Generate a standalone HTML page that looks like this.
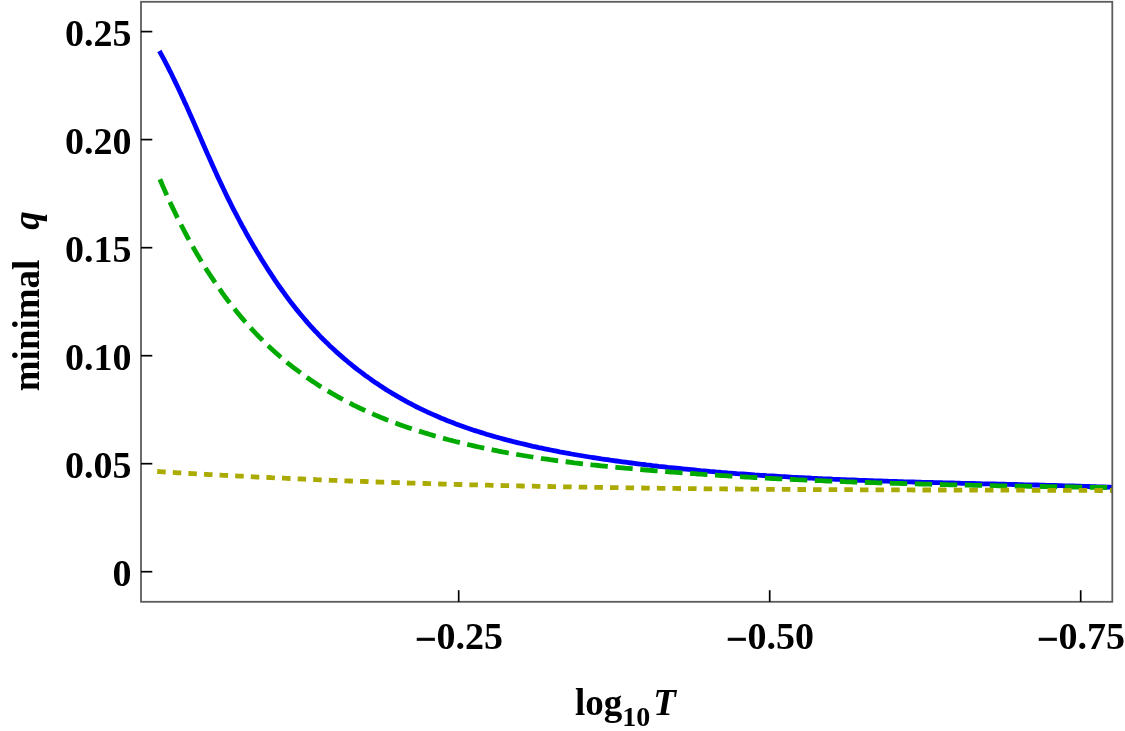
<!DOCTYPE html>
<html><head><meta charset="utf-8"><title>minimal q vs log10 T</title>
<style>
html,body{margin:0;padding:0;background:#fff;}
svg{display:block;}
text{font-family:"Liberation Serif","Times New Roman",serif;font-weight:bold;fill:#000;}
</style></head><body>
<svg width="1125" height="731" viewBox="0 0 1125 731">
<rect x="0" y="0" width="1125" height="731" fill="#fff"/>
<defs><clipPath id="c"><rect x="141.0" y="1.8" width="971.3" height="600.0"/></clipPath></defs>
<g clip-path="url(#c)" fill="none" stroke-width="4.8" stroke-linejoin="round">
<path d="M159.4,51.0 L160.8,53.6 L162.3,56.3 L163.7,58.9 L165.1,61.6 L166.5,64.3 L167.9,66.9 L169.2,69.6 L170.6,72.3 L171.9,75.0 L173.2,77.7 L174.5,80.4 L175.8,83.1 L177.1,85.8 L178.4,88.5 L179.7,91.2 L181.0,94.0 L182.2,96.7 L183.5,99.4 L184.7,102.2 L186.0,104.9 L187.2,107.6 L188.4,110.4 L189.6,113.1 L190.9,115.9 L192.1,118.6 L193.3,121.4 L194.5,124.1 L195.7,126.9 L196.9,129.7 L198.1,132.4 L199.3,135.2 L200.5,137.9 L201.7,140.7 L202.9,143.5 L204.1,146.2 L205.3,149.0 L206.5,151.7 L207.7,154.5 L209.0,157.3 L210.2,160.0 L211.4,162.8 L212.6,165.5 L213.9,168.3 L215.1,171.0 L216.4,173.8 L217.6,176.5 L218.9,179.3 L220.2,182.0 L221.5,184.8 L222.8,187.5 L224.1,190.2 L225.4,193.0 L226.7,195.7 L228.0,198.4 L229.4,201.1 L230.7,203.8 L232.1,206.6 L233.5,209.3 L234.9,212.0 L236.3,214.7 L237.7,217.3 L239.1,220.0 L240.5,222.7 L241.9,225.4 L243.4,228.0 L244.9,230.7 L246.3,233.3 L247.8,236.0 L249.3,238.6 L250.8,241.2 L252.3,243.9 L253.8,246.5 L255.4,249.1 L256.9,251.7 L258.5,254.3 L260.0,256.8 L261.6,259.4 L263.2,262.0 L264.8,264.5 L266.4,267.1 L268.0,269.6 L269.7,272.1 L271.3,274.6 L273.0,277.1 L274.6,279.6 L276.3,282.1 L278.0,284.6 L279.7,287.0 L281.5,289.5 L283.2,291.9 L285.0,294.3 L286.7,296.7 L288.5,299.1 L290.3,301.5 L292.2,303.9 L294.0,306.2 L295.8,308.6 L297.7,310.9 L299.6,313.2 L301.5,315.5 L303.4,317.8 L305.4,320.1 L307.3,322.4 L309.3,324.6 L311.3,326.8 L313.4,329.1 L315.4,331.3 L317.5,333.4 L319.5,335.6 L321.6,337.8 L323.8,339.9 L325.9,342.0 L328.1,344.1 L330.2,346.2 L332.5,348.3 L334.7,350.3 L336.9,352.4 L339.2,354.4 L341.5,356.4 L343.8,358.4 L346.1,360.3 L348.4,362.3 L350.8,364.2 L353.1,366.1 L355.5,368.0 L357.9,369.9 L360.3,371.7 L362.8,373.5 L365.2,375.4 L367.7,377.1 L370.2,378.9 L372.7,380.7 L375.2,382.4 L377.7,384.1 L380.2,385.8 L382.8,387.4 L385.3,389.1 L387.9,390.7 L390.5,392.3 L393.1,393.9 L395.7,395.4 L398.3,396.9 L400.9,398.4 L403.6,399.9 L406.2,401.4 L408.9,402.8 L411.5,404.2 L414.2,405.6 L416.9,407.0 L419.6,408.3 L422.3,409.6 L425.0,410.9 L427.7,412.2 L430.4,413.4 L433.2,414.6 L435.9,415.8 L438.7,417.0 L441.4,418.2 L444.2,419.3 L446.9,420.5 L449.7,421.6 L452.5,422.6 L455.3,423.7 L458.1,424.7 L460.9,425.8 L463.7,426.8 L466.5,427.8 L469.4,428.7 L472.2,429.7 L475.0,430.6 L477.9,431.5 L480.7,432.4 L483.6,433.3 L486.4,434.2 L489.3,435.0 L492.2,435.9 L495.1,436.7 L497.9,437.5 L500.8,438.3 L503.7,439.1 L506.6,439.9 L509.5,440.6 L512.4,441.4 L515.4,442.1 L518.3,442.8 L521.2,443.5 L524.1,444.2 L527.1,444.9 L530.0,445.6 L532.9,446.3 L535.9,446.9 L538.8,447.6 L541.8,448.2 L544.7,448.8 L547.7,449.4 L550.6,450.0 L553.6,450.6 L556.6,451.2 L559.6,451.8 L562.5,452.3 L565.5,452.9 L568.5,453.4 L571.5,454.0 L574.4,454.5 L577.4,455.0 L580.4,455.5 L583.4,456.0 L586.4,456.5 L589.4,457.0 L592.4,457.5 L595.4,457.9 L598.4,458.4 L601.4,458.9 L604.4,459.3 L607.4,459.7 L610.4,460.2 L613.4,460.6 L616.4,461.0 L619.4,461.4 L622.4,461.8 L625.5,462.2 L628.5,462.6 L631.5,463.0 L634.5,463.4 L637.5,463.8 L640.5,464.2 L643.5,464.5 L646.5,464.9 L649.5,465.2 L652.5,465.6 L655.6,465.9 L658.6,466.3 L661.6,466.6 L664.6,466.9 L667.6,467.3 L670.6,467.6 L673.6,467.9 L676.6,468.2 L679.6,468.5 L682.6,468.8 L685.6,469.1 L688.6,469.4 L691.6,469.7 L694.6,470.0 L697.7,470.3 L700.7,470.6 L703.7,470.8 L706.7,471.1 L709.7,471.4 L712.7,471.6 L715.7,471.9 L718.7,472.1 L721.7,472.4 L724.7,472.6 L727.7,472.9 L730.7,473.1 L733.7,473.3 L736.7,473.6 L739.7,473.8 L742.7,474.0 L745.7,474.2 L748.7,474.4 L751.7,474.6 L754.7,474.9 L757.7,475.1 L760.7,475.3 L763.7,475.5 L766.7,475.7 L769.7,475.8 L772.7,476.0 L775.7,476.2 L778.7,476.4 L781.7,476.6 L784.7,476.7 L787.7,476.9 L790.7,477.1 L793.7,477.3 L796.7,477.4 L799.7,477.6 L802.7,477.7 L805.7,477.9 L808.7,478.0 L811.7,478.2 L814.7,478.3 L817.7,478.5 L820.7,478.6 L823.7,478.8 L826.7,478.9 L829.7,479.0 L832.7,479.2 L835.7,479.3 L838.7,479.4 L841.7,479.6 L844.7,479.7 L847.7,479.8 L850.7,479.9 L853.7,480.0 L856.7,480.1 L859.7,480.3 L862.8,480.4 L865.8,480.5 L868.8,480.6 L871.8,480.7 L874.8,480.8 L877.8,480.9 L880.8,481.0 L883.8,481.1 L886.8,481.2 L889.8,481.3 L892.8,481.4 L895.8,481.5 L898.8,481.6 L901.8,481.7 L904.8,481.8 L907.8,481.8 L910.8,481.9 L913.8,482.0 L916.8,482.1 L919.8,482.2 L922.8,482.3 L925.8,482.3 L928.8,482.4 L931.9,482.5 L934.9,482.6 L937.9,482.7 L940.9,482.7 L943.9,482.8 L946.9,482.9 L949.9,483.0 L952.9,483.0 L955.9,483.1 L958.9,483.2 L961.9,483.3 L965.0,483.3 L968.0,483.4 L971.0,483.5 L974.0,483.5 L977.0,483.6 L980.0,483.7 L983.0,483.8 L986.0,483.8 L989.1,483.9 L992.1,484.0 L995.1,484.0 L998.1,484.1 L1001.1,484.2 L1004.1,484.2 L1007.2,484.3 L1010.2,484.4 L1013.2,484.5 L1016.2,484.5 L1019.2,484.6 L1022.3,484.7 L1025.3,484.8 L1028.3,484.8 L1031.3,484.9 L1034.3,485.0 L1037.4,485.0 L1040.4,485.1 L1043.4,485.2 L1046.4,485.3 L1049.5,485.4 L1052.5,485.4 L1055.5,485.5 L1058.5,485.6 L1061.6,485.7 L1064.6,485.8 L1067.6,485.8 L1070.6,485.9 L1073.7,486.0 L1076.7,486.1 L1079.7,486.2 L1082.8,486.3 L1085.8,486.4 L1088.8,486.5 L1091.9,486.6 L1094.9,486.7 L1097.9,486.8 L1101.0,486.9 L1104.0,487.0 L1107.0,487.1 L1110.1,487.2 L1113.1,487.3" stroke="#0000ff"/>
<path d="M159.9,179.2 L161.1,182.0 L162.2,184.7 L163.4,187.4 L164.6,190.1 L165.8,192.9 L167.0,195.6 L168.2,198.3 L169.5,201.0 L170.7,203.7 L172.0,206.4 L173.3,209.1 L174.6,211.8 L175.9,214.6 L177.2,217.3 L178.6,220.0 L179.9,222.6 L181.3,225.3 L182.7,228.0 L184.1,230.7 L185.5,233.4 L186.9,236.0 L188.3,238.7 L189.8,241.4 L191.3,244.0 L192.8,246.6 L194.3,249.3 L195.8,251.9 L197.3,254.5 L198.9,257.1 L200.4,259.7 L202.0,262.3 L203.6,264.9 L205.2,267.5 L206.8,270.1 L208.5,272.6 L210.1,275.2 L211.8,277.7 L213.5,280.2 L215.2,282.7 L216.9,285.2 L218.6,287.7 L220.4,290.2 L222.1,292.7 L223.9,295.1 L225.7,297.6 L227.5,300.0 L229.4,302.4 L231.2,304.8 L233.1,307.2 L235.0,309.5 L236.9,311.9 L238.8,314.2 L240.7,316.6 L242.7,318.9 L244.7,321.2 L246.6,323.4 L248.7,325.7 L250.7,327.9 L252.7,330.1 L254.8,332.3 L256.8,334.5 L258.9,336.7 L261.1,338.8 L263.2,341.0 L265.3,343.1 L267.5,345.2 L269.7,347.2 L271.9,349.3 L274.1,351.3 L276.3,353.3 L278.6,355.3 L280.9,357.3 L283.2,359.2 L285.5,361.1 L287.8,363.1 L290.1,364.9 L292.5,366.8 L294.9,368.6 L297.3,370.4 L299.7,372.2 L302.1,374.0 L304.6,375.8 L307.0,377.5 L309.5,379.2 L312.0,380.9 L314.5,382.6 L317.0,384.2 L319.5,385.9 L322.1,387.5 L324.6,389.0 L327.2,390.6 L329.8,392.1 L332.4,393.7 L335.0,395.2 L337.6,396.6 L340.2,398.1 L342.9,399.5 L345.5,400.9 L348.2,402.3 L350.9,403.7 L353.5,405.1 L356.2,406.4 L359.0,407.7 L361.7,409.0 L364.4,410.2 L367.1,411.5 L369.9,412.7 L372.6,413.9 L375.4,415.1 L378.2,416.3 L381.0,417.4 L383.7,418.5 L386.5,419.7 L389.3,420.7 L392.2,421.8 L395.0,422.9 L397.8,423.9 L400.6,424.9 L403.5,425.9 L406.3,426.9 L409.2,427.9 L412.0,428.9 L414.9,429.8 L417.7,430.7 L420.6,431.6 L423.5,432.5 L426.4,433.4 L429.3,434.3 L432.1,435.1 L435.0,436.0 L437.9,436.8 L440.8,437.6 L443.7,438.4 L446.6,439.2 L449.5,440.0 L452.4,440.7 L455.4,441.5 L458.3,442.2 L461.2,442.9 L464.1,443.6 L467.1,444.3 L470.0,445.0 L472.9,445.7 L475.9,446.4 L478.8,447.0 L481.7,447.7 L484.7,448.3 L487.6,448.9 L490.6,449.5 L493.5,450.1 L496.5,450.7 L499.5,451.3 L502.4,451.9 L505.4,452.4 L508.3,453.0 L511.3,453.5 L514.3,454.0 L517.3,454.5 L520.2,455.0 L523.2,455.5 L526.2,456.0 L529.2,456.5 L532.2,457.0 L535.1,457.5 L538.1,457.9 L541.1,458.4 L544.1,458.8 L547.1,459.2 L550.1,459.7 L553.1,460.1 L556.1,460.5 L559.1,460.9 L562.1,461.3 L565.1,461.7 L568.1,462.0 L571.1,462.4 L574.1,462.8 L577.1,463.1 L580.1,463.5 L583.1,463.8 L586.1,464.2 L589.1,464.5 L592.1,464.9 L595.1,465.2 L598.1,465.5 L601.1,465.8 L604.2,466.1 L607.2,466.4 L610.2,466.7 L613.2,467.0 L616.2,467.3 L619.2,467.6 L622.2,467.9 L625.2,468.2 L628.3,468.4 L631.3,468.7 L634.3,469.0 L637.3,469.2 L640.3,469.5 L643.3,469.8 L646.3,470.0 L649.4,470.3 L652.4,470.5 L655.4,470.8 L658.4,471.0 L661.4,471.3 L664.4,471.5 L667.4,471.7 L670.4,472.0 L673.4,472.2 L676.4,472.4 L679.5,472.6 L682.5,472.9 L685.5,473.1 L688.5,473.3 L691.5,473.5 L694.5,473.7 L697.5,474.0 L700.5,474.2 L703.5,474.4 L706.5,474.6 L709.5,474.8 L712.5,475.0 L715.5,475.2 L718.6,475.4 L721.6,475.6 L724.6,475.7 L727.6,475.9 L730.6,476.1 L733.6,476.3 L736.6,476.5 L739.6,476.7 L742.6,476.8 L745.6,477.0 L748.6,477.2 L751.6,477.3 L754.6,477.5 L757.6,477.7 L760.6,477.8 L763.6,478.0 L766.6,478.2 L769.6,478.3 L772.6,478.5 L775.6,478.6 L778.6,478.8 L781.6,478.9 L784.7,479.1 L787.7,479.2 L790.7,479.4 L793.7,479.5 L796.7,479.7 L799.7,479.8 L802.7,479.9 L805.7,480.1 L808.7,480.2 L811.7,480.3 L814.7,480.5 L817.7,480.6 L820.7,480.7 L823.7,480.8 L826.7,481.0 L829.7,481.1 L832.7,481.2 L835.7,481.3 L838.7,481.4 L841.7,481.5 L844.7,481.7 L847.7,481.8 L850.7,481.9 L853.7,482.0 L856.7,482.1 L859.7,482.2 L862.7,482.3 L865.7,482.4 L868.7,482.5 L871.8,482.6 L874.8,482.7 L877.8,482.8 L880.8,482.9 L883.8,483.0 L886.8,483.1 L889.8,483.2 L892.8,483.3 L895.8,483.3 L898.8,483.4 L901.8,483.5 L904.8,483.6 L907.8,483.7 L910.8,483.8 L913.8,483.9 L916.8,483.9 L919.8,484.0 L922.9,484.1 L925.9,484.2 L928.9,484.2 L931.9,484.3 L934.9,484.4 L937.9,484.5 L940.9,484.5 L943.9,484.6 L946.9,484.7 L949.9,484.8 L952.9,484.8 L956.0,484.9 L959.0,485.0 L962.0,485.0 L965.0,485.1 L968.0,485.2 L971.0,485.2 L974.0,485.3 L977.0,485.3 L980.1,485.4 L983.1,485.5 L986.1,485.5 L989.1,485.6 L992.1,485.6 L995.1,485.7 L998.1,485.8 L1001.2,485.8 L1004.2,485.9 L1007.2,485.9 L1010.2,486.0 L1013.2,486.0 L1016.2,486.1 L1019.3,486.1 L1022.3,486.2 L1025.3,486.2 L1028.3,486.3 L1031.3,486.3 L1034.4,486.4 L1037.4,486.4 L1040.4,486.5 L1043.4,486.5 L1046.5,486.6 L1049.5,486.6 L1052.5,486.7 L1055.5,486.7 L1058.5,486.8 L1061.6,486.8 L1064.6,486.9 L1067.6,486.9 L1070.7,487.0 L1073.7,487.0 L1076.7,487.1 L1079.7,487.1 L1082.8,487.2 L1085.8,487.2 L1088.8,487.3 L1091.9,487.3 L1094.9,487.4 L1097.9,487.4 L1101.0,487.4 L1104.0,487.5 L1107.0,487.5 L1110.1,487.6 L1113.1,487.6" stroke="#00aa00" stroke-dasharray="17.4 7.6"/>
<path d="M157.2,471.5 L160.2,471.7 L163.2,471.9 L166.2,472.0 L169.2,472.2 L172.2,472.4 L175.3,472.6 L178.3,472.8 L181.3,472.9 L184.3,473.1 L187.3,473.3 L190.3,473.5 L193.3,473.6 L196.3,473.8 L199.3,474.0 L202.4,474.1 L205.4,474.3 L208.4,474.5 L211.4,474.6 L214.4,474.8 L217.4,475.0 L220.4,475.1 L223.4,475.3 L226.5,475.4 L229.5,475.6 L232.5,475.8 L235.5,475.9 L238.5,476.1 L241.5,476.2 L244.5,476.4 L247.5,476.5 L250.6,476.7 L253.6,476.8 L256.6,477.0 L259.6,477.1 L262.6,477.3 L265.6,477.4 L268.6,477.5 L271.6,477.7 L274.7,477.8 L277.7,478.0 L280.7,478.1 L283.7,478.2 L286.7,478.4 L289.7,478.5 L292.7,478.6 L295.7,478.8 L298.8,478.9 L301.8,479.0 L304.8,479.2 L307.8,479.3 L310.8,479.4 L313.8,479.5 L316.8,479.7 L319.9,479.8 L322.9,479.9 L325.9,480.0 L328.9,480.2 L331.9,480.3 L334.9,480.4 L337.9,480.5 L340.9,480.6 L344.0,480.8 L347.0,480.9 L350.0,481.0 L353.0,481.1 L356.0,481.2 L359.0,481.3 L362.0,481.4 L365.1,481.5 L368.1,481.6 L371.1,481.8 L374.1,481.9 L377.1,482.0 L380.1,482.1 L383.1,482.2 L386.2,482.3 L389.2,482.4 L392.2,482.5 L395.2,482.6 L398.2,482.7 L401.2,482.8 L404.2,482.9 L407.3,483.0 L410.3,483.1 L413.3,483.2 L416.3,483.2 L419.3,483.3 L422.3,483.4 L425.3,483.5 L428.4,483.6 L431.4,483.7 L434.4,483.8 L437.4,483.9 L440.4,484.0 L443.4,484.1 L446.4,484.1 L449.5,484.2 L452.5,484.3 L455.5,484.4 L458.5,484.5 L461.5,484.5 L464.5,484.6 L467.6,484.7 L470.6,484.8 L473.6,484.9 L476.6,484.9 L479.6,485.0 L482.6,485.1 L485.6,485.2 L488.7,485.2 L491.7,485.3 L494.7,485.4 L497.7,485.5 L500.7,485.5 L503.7,485.6 L506.8,485.7 L509.8,485.7 L512.8,485.8 L515.8,485.9 L518.8,485.9 L521.8,486.0 L524.8,486.1 L527.9,486.1 L530.9,486.2 L533.9,486.2 L536.9,486.3 L539.9,486.4 L542.9,486.4 L546.0,486.5 L549.0,486.5 L552.0,486.6 L555.0,486.7 L558.0,486.7 L561.0,486.8 L564.0,486.8 L567.1,486.9 L570.1,486.9 L573.1,487.0 L576.1,487.0 L579.1,487.1 L582.1,487.1 L585.2,487.2 L588.2,487.2 L591.2,487.3 L594.2,487.3 L597.2,487.4 L600.2,487.4 L603.3,487.5 L606.3,487.5 L609.3,487.6 L612.3,487.6 L615.3,487.7 L618.3,487.7 L621.4,487.8 L624.4,487.8 L627.4,487.8 L630.4,487.9 L633.4,487.9 L636.4,488.0 L639.4,488.0 L642.5,488.0 L645.5,488.1 L648.5,488.1 L651.5,488.2 L654.5,488.2 L657.5,488.2 L660.6,488.3 L663.6,488.3 L666.6,488.3 L669.6,488.4 L672.6,488.4 L675.6,488.4 L678.7,488.5 L681.7,488.5 L684.7,488.5 L687.7,488.6 L690.7,488.6 L693.7,488.6 L696.8,488.7 L699.8,488.7 L702.8,488.7 L705.8,488.8 L708.8,488.8 L711.8,488.8 L714.9,488.8 L717.9,488.9 L720.9,488.9 L723.9,488.9 L726.9,489.0 L729.9,489.0 L733.0,489.0 L736.0,489.0 L739.0,489.1 L742.0,489.1 L745.0,489.1 L748.0,489.1 L751.1,489.1 L754.1,489.2 L757.1,489.2 L760.1,489.2 L763.1,489.2 L766.1,489.3 L769.2,489.3 L772.2,489.3 L775.2,489.3 L778.2,489.3 L781.2,489.4 L784.2,489.4 L787.3,489.4 L790.3,489.4 L793.3,489.4 L796.3,489.5 L799.3,489.5 L802.3,489.5 L805.4,489.5 L808.4,489.5 L811.4,489.5 L814.4,489.6 L817.4,489.6 L820.4,489.6 L823.4,489.6 L826.5,489.6 L829.5,489.6 L832.5,489.6 L835.5,489.7 L838.5,489.7 L841.5,489.7 L844.6,489.7 L847.6,489.7 L850.6,489.7 L853.6,489.7 L856.6,489.8 L859.6,489.8 L862.7,489.8 L865.7,489.8 L868.7,489.8 L871.7,489.8 L874.7,489.8 L877.7,489.8 L880.8,489.8 L883.8,489.9 L886.8,489.9 L889.8,489.9 L892.8,489.9 L895.8,489.9 L898.9,489.9 L901.9,489.9 L904.9,489.9 L907.9,489.9 L910.9,489.9 L913.9,490.0 L917.0,490.0 L920.0,490.0 L923.0,490.0 L926.0,490.0 L929.0,490.0 L932.0,490.0 L935.1,490.0 L938.1,490.0 L941.1,490.0 L944.1,490.0 L947.1,490.1 L950.1,490.1 L953.2,490.1 L956.2,490.1 L959.2,490.1 L962.2,490.1 L965.2,490.1 L968.2,490.1 L971.3,490.1 L974.3,490.1 L977.3,490.1 L980.3,490.1 L983.3,490.1 L986.3,490.2 L989.3,490.2 L992.4,490.2 L995.4,490.2 L998.4,490.2 L1001.4,490.2 L1004.4,490.2 L1007.4,490.2 L1010.5,490.2 L1013.5,490.2 L1016.5,490.2 L1019.5,490.2 L1022.5,490.2 L1025.5,490.3 L1028.6,490.3 L1031.6,490.3 L1034.6,490.3 L1037.6,490.3 L1040.6,490.3 L1043.6,490.3 L1046.7,490.3 L1049.7,490.3 L1052.7,490.3 L1055.7,490.3 L1058.7,490.3 L1061.7,490.3 L1064.7,490.4 L1067.8,490.4 L1070.8,490.4 L1073.8,490.4 L1076.8,490.4 L1079.8,490.4 L1082.8,490.4 L1085.9,490.4 L1088.9,490.4 L1091.9,490.4 L1094.9,490.4 L1097.9,490.5 L1100.9,490.5 L1103.9,490.5 L1107.0,490.5 L1110.0,490.5 L1113.0,490.5" stroke="#aaaa00" stroke-dasharray="8.5 7.126"/>
</g>
<rect x="141.0" y="1.8" width="971.3" height="600.0" fill="none" stroke="#5c5c5c" stroke-width="1.8"/>
<g stroke="#000" stroke-width="1.7" fill="none">
<line x1="141.0" y1="31.6" x2="152.3" y2="31.6"/>
<line x1="141.0" y1="139.6" x2="152.3" y2="139.6"/>
<line x1="141.0" y1="247.7" x2="152.3" y2="247.7"/>
<line x1="141.0" y1="355.7" x2="152.3" y2="355.7"/>
<line x1="141.0" y1="463.7" x2="152.3" y2="463.7"/>
<line x1="141.0" y1="571.7" x2="152.3" y2="571.7"/>
<line x1="458.7" y1="601.8" x2="458.7" y2="590.1999999999999"/>
<line x1="769.7" y1="601.8" x2="769.7" y2="590.1999999999999"/>
<line x1="1080.7" y1="601.8" x2="1080.7" y2="590.1999999999999"/>
</g>
<g font-size="38px">
<text x="131.5" y="45.7" text-anchor="end">0.25</text>
<text x="131.5" y="153.7" text-anchor="end">0.20</text>
<text x="131.5" y="261.8" text-anchor="end">0.15</text>
<text x="131.5" y="369.8" text-anchor="end">0.10</text>
<text x="131.5" y="477.8" text-anchor="end">0.05</text>
<text x="131.5" y="585.8" text-anchor="end">0</text>
<text x="459.0" y="648.6" text-anchor="middle"><tspan dy="3.4" stroke="#000" stroke-width="0.5">−</tspan><tspan dy="-3.4">0.25</tspan></text>
<text x="770.0" y="648.6" text-anchor="middle"><tspan dy="3.4" stroke="#000" stroke-width="0.5">−</tspan><tspan dy="-3.4">0.50</tspan></text>
<text x="1081.0" y="648.6" text-anchor="middle"><tspan dy="3.4" stroke="#000" stroke-width="0.5">−</tspan><tspan dy="-3.4">0.75</tspan></text>
</g>
<text x="575" y="714.9" font-size="37px">log<tspan font-size="28px" dy="10.6">10</tspan><tspan dy="-10.6" dx="3" font-style="italic" font-size="37px">T</tspan></text>
<text transform="translate(38.5,391.2) rotate(-90)" font-size="37px">minimal<tspan font-style="italic" dx="30">q</tspan></text>
</svg></body></html>
